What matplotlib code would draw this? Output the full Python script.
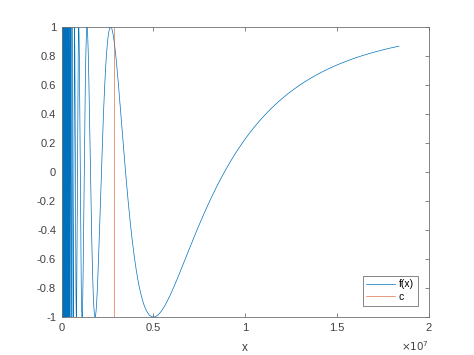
import numpy as np
import matplotlib
matplotlib.use("Agg")
import matplotlib.pyplot as plt
from matplotlib.ticker import FuncFormatter

# f(x) = cos(k/x + phi), parameters
k_coef = 1.8e7
phi = -0.46
x_start = 1e3
x_end = 1.837e7
c_pos = 2.87e6

xticks = [0, 0.5e7, 1e7, 1.5e7, 2e7]
yticks = np.arange(-1, 1.01, 0.2)
legend_labels = ["f(x)", "c"]

plt.rcParams['font.family'] = ['Liberation Sans', 'DejaVu Sans']
plt.rcParams['axes.unicode_minus'] = False

x = np.linspace(x_start, x_end, 40000)
fx = np.cos(k_coef / x + phi)

fig = plt.figure(figsize=(4.74, 3.55), dpi=100)
ax = fig.add_axes([0.13, 0.107, 0.775, 0.817])

ax.plot(x, fx, color='#0072BD', lw=0.5, label=legend_labels[0])
ax.plot([c_pos, c_pos], [-1, 1], color='#D95319', lw=0.5, alpha=0.8,
        label=legend_labels[1])

ax.set_xlim(0, 2e7)
ax.set_ylim(-1, 1)
ax.set_xticks(xticks)
ax.set_yticks(yticks)
ax.xaxis.set_major_formatter(FuncFormatter(lambda v, p: '%g' % (v / 1e7)))
ax.yaxis.set_major_formatter(FuncFormatter(lambda v, p: '%g' % (round(v, 1) + 0.0)))

grey = '#404040'
for s in ax.spines.values():
    s.set_color('#707070')
    s.set_linewidth(0.6)
ax.tick_params(direction='in', top=True, right=True, length=3, width=0.6,
               colors='#707070', labelcolor=grey, labelsize=8, pad=4)

ax.set_xlabel('x', fontsize=8.5, color=grey, labelpad=7)
ax.text(1.0, -0.075, r'$\times10^{7}$', transform=ax.transAxes,
        ha='right', va='top', fontsize=7.5, color=grey)

leg = ax.legend(loc='lower right', fontsize=7.5, frameon=True, fancybox=False,
                edgecolor='#505050', borderaxespad=1.1, handlelength=2.7,
                handletextpad=0.4, borderpad=0.35, labelspacing=0.25)
leg.get_frame().set_linewidth(0.6)

fig.savefig('out.png', dpi=100)
